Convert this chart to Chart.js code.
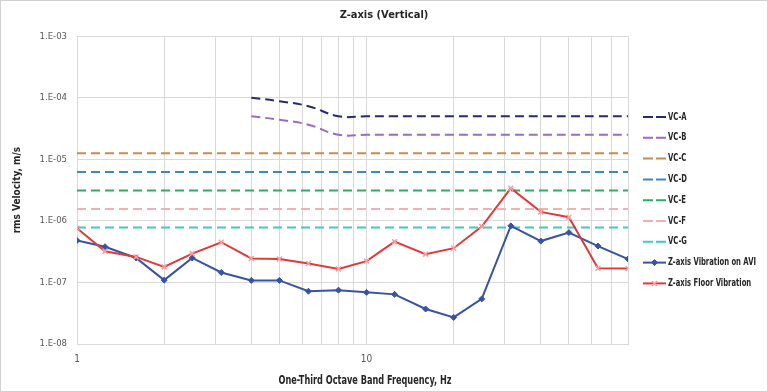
<!DOCTYPE html>
<html>
<head>
<meta charset="utf-8">
<script src="https://cdn.jsdelivr.net/npm/chart.js@4.4.0/dist/chart.umd.min.js"></script>
<style>
    html, body { margin: 0; padding: 0; background: #FFFFFF; }
    canvas { display: block; }
</style>
</head>
<body>
<canvas id="chart" width="768" height="392"></canvas>
<script>
/* ---- data ---- */
const freqs = [1, 1.25, 1.6, 2, 2.5, 3.15, 4, 5, 6.3, 8, 10, 12.5, 16, 20, 25, 31.5, 40, 50, 63, 80];

const aviVibration = [4.8e-7, 3.8e-7, 2.5e-7, 1.09e-7, 2.5e-7, 1.45e-7, 1.08e-7, 1.08e-7, 7.2e-8, 7.5e-8,
    6.9e-8, 6.4e-8, 3.7e-8, 2.7e-8, 5.4e-8, 8.3e-7, 4.7e-7, 6.45e-7, 3.9e-7, 2.4e-7];
const floorVibration = [7.6e-7, 3.2e-7, 2.6e-7, 1.79e-7, 2.94e-7, 4.5e-7, 2.45e-7, 2.4e-7, 2.03e-7, 1.66e-7,
    2.22e-7, 4.6e-7, 2.88e-7, 3.6e-7, 8.1e-7, 3.4e-6, 1.4e-6, 1.15e-6, 1.7e-7, 1.68e-7];

const vcA = [null, null, null, null, null, null, 1e-4, 8.8e-5, 7.3e-5, 5e-5,
    5e-5, 5e-5, 5e-5, 5e-5, 5e-5, 5e-5, 5e-5, 5e-5, 5e-5, 5e-5];
const vcB = [null, null, null, null, null, null, 5e-5, 4.4e-5, 3.65e-5, 2.5e-5,
    2.5e-5, 2.5e-5, 2.5e-5, 2.5e-5, 2.5e-5, 2.5e-5, 2.5e-5, 2.5e-5, 2.5e-5, 2.5e-5];

// flat criteria lines, drawn across the full band range
const vcFlatNames = ['VC-C', 'VC-D', 'VC-E', 'VC-F', 'VC-G'];
const vcFlatLevels = [1.25e-5, 6.25e-6, 3.12e-6, 1.56e-6, 7.8e-7];

const xTicks = [1, 2, 3, 4, 5, 6, 7, 8, 9, 10, 20, 30, 40, 50, 60, 70, 80];
const yTicks = [1e-8, 1e-7, 1e-6, 1e-5, 1e-4, 1e-3];

/* ---- styling ---- */
const FONT = '"Liberation Sans Narrow", "DejaVu Sans Condensed", "Arial Narrow", sans-serif';
const vcColors = {
    'VC-A': '#262A6E', 'VC-B': '#9B6AC4', 'VC-C': '#C98A4E', 'VC-D': '#3C88C2',
    'VC-E': '#2FAC62', 'VC-F': '#F3B0B0', 'VC-G': '#40C9C0'
};
const DASH = [9, 5];

const toPoints = (ys) => freqs.map((f, i) => ({ x: f, y: ys[i] }));

const datasets = [];
[['VC-A', vcA], ['VC-B', vcB]].forEach(([name, ys]) => {
    datasets.push({
        label: name, data: toPoints(ys), borderColor: vcColors[name],
        borderWidth: 2, borderDash: DASH, pointRadius: 0, tension: 0.4, order: 2
    });
});
vcFlatNames.forEach((name, i) => {
    datasets.push({
        label: name,
        data: [{ x: freqs[0], y: vcFlatLevels[i] }, { x: freqs[freqs.length - 1], y: vcFlatLevels[i] }],
        borderColor: vcColors[name], borderWidth: 2, borderDash: DASH, pointRadius: 0, order: 2
    });
});
datasets.push({
    label: 'Z-axis Vibration on AVI', data: toPoints(aviVibration),
    borderColor: '#3953A4', backgroundColor: '#3953A4', borderWidth: 2,
    pointStyle: 'rectRot', pointRadius: 3, pointBorderWidth: 1, order: 1
});
datasets.push({
    label: 'Z-axis Floor Vibration', data: toPoints(floorVibration),
    borderColor: '#E0393A', backgroundColor: '#E0393A', borderWidth: 2,
    pointStyle: 'crossRot', pointRadius: 3.5, pointBorderColor: '#F4A0A0', pointBorderWidth: 1.5, order: 0
});

const expLabel = (v) => {
    const e = Math.round(Math.log10(v));
    return '1.E' + (e < 0 ? '-' : '+') + String(Math.abs(e)).padStart(2, '0');
};

// draw text squeezed horizontally (the reference uses a narrow face)
function narrowText(ctx, text, x, y, squeeze, align) {
    ctx.save();
    ctx.translate(x, y);
    ctx.scale(squeeze, 1);
    ctx.textAlign = align;
    ctx.textBaseline = 'middle';
    ctx.fillText(text, 0, 0);
    ctx.restore();
}

/* ---- plugins: background/border, x title, legend ---- */
const framePlugin = {
    id: 'frame',
    beforeDraw(chart) {
        const ctx = chart.ctx;
        ctx.save();
        ctx.fillStyle = '#FFFFFF';
        ctx.fillRect(0, 0, chart.width, chart.height);
        ctx.restore();
    },
    afterDraw(chart) {
        const ctx = chart.ctx;
        ctx.save();
        ctx.strokeStyle = '#D0D0D0';
        ctx.lineWidth = 1;
        ctx.strokeRect(0.5, 0.5, chart.width - 1, chart.height - 1);
        // x axis title
        ctx.fillStyle = '#262626';
        ctx.font = 'bold 11.5px ' + FONT;
        narrowText(ctx, 'One-Third Octave Band Frequency, Hz', 365, 381, 0.79, 'center');
        ctx.restore();
    }
};

const sideLegend = {
    id: 'sideLegend',
    afterDraw(chart) {
        const ctx = chart.ctx;
        const x0 = 643, x1 = 666, top = 117, step = 20.8;
        ctx.save();
        chart.data.datasets.forEach((ds, i) => {
            const y = top + i * step;
            ctx.beginPath();
            ctx.strokeStyle = ds.borderColor;
            ctx.lineWidth = 2;
            ctx.setLineDash(ds.borderDash ? [10, 3] : []);
            ctx.moveTo(x0, y);
            ctx.lineTo(x1, y);
            ctx.stroke();
            ctx.setLineDash([]);
            if (ds.pointStyle) {
                ctx.fillStyle = ds.backgroundColor;
                ctx.strokeStyle = ds.pointBorderColor || ds.borderColor;
                ctx.lineWidth = ds.pointBorderWidth;
                Chart.helpers.drawPoint(ctx, {
                    pointStyle: ds.pointStyle, radius: ds.pointRadius,
                    rotation: 0, borderWidth: ds.pointBorderWidth
                }, (x0 + x1) / 2, y);
            }
            ctx.fillStyle = '#262626';
            ctx.font = 'bold 10px ' + FONT;
            narrowText(ctx, ds.label, x1 + 2, y, 0.76, 'left');
        });
        ctx.restore();
    }
};

new Chart(document.getElementById('chart').getContext('2d'), {
    type: 'line',
    data: { datasets },
    plugins: [framePlugin, sideLegend],
    options: {
        responsive: false,
        animation: false,
        layout: { padding: 0 },
        plugins: {
            legend: { display: false },
            tooltip: { enabled: false },
            title: {
                display: true,
                text: 'Z-axis (Vertical)',
                color: '#262626',
                font: { family: FONT, size: 11, weight: 'bold' },
                padding: { top: 9, bottom: 14 }
            }
        },
        scales: {
            x: {
                type: 'logarithmic',
                min: 1,
                max: 80,
                afterBuildTicks: (scale) => { scale.ticks = xTicks.map(v => ({ value: v })); },
                afterFit: (scale) => { scale.height = 48; },
                grid: { color: '#D9D9D9', drawTicks: false },
                border: { color: '#D9D9D9' },
                ticks: {
                    autoSkip: false,
                    maxRotation: 0,
                    padding: 9,
                    color: '#595959',
                    font: { family: FONT, size: 10 },
                    callback: (v) => (v === 1 || v === 10) ? String(v) : ''
                }
            },
            y: {
                type: 'logarithmic',
                min: 1e-8,
                max: 1e-3,
                afterBuildTicks: (scale) => { scale.ticks = yTicks.map(v => ({ value: v })); },
                afterFit: (scale) => { scale.width = 77; },
                grid: { color: '#D9D9D9', drawTicks: false },
                border: { color: '#D9D9D9' },
                title: {
                    display: true,
                    text: 'rms Velocity, m/s',
                    color: '#262626',
                    font: { family: FONT, size: 10, weight: 'bold' },
                    padding: { top: 11, bottom: 0 }
                },
                ticks: {
                    padding: 10,
                    color: '#595959',
                    font: { family: FONT, size: 9.5 },
                    callback: (v) => expLabel(v)
                }
            },
            // empty right-hand scale that only reserves room for the legend
            legendSpace: {
                type: 'linear',
                axis: 'y',
                position: 'right',
                afterFit: (scale) => { scale.width = 140; },
                grid: { display: false },
                border: { display: false },
                ticks: { display: false }
            }
        }
    }
});
</script>
</body>
</html>
